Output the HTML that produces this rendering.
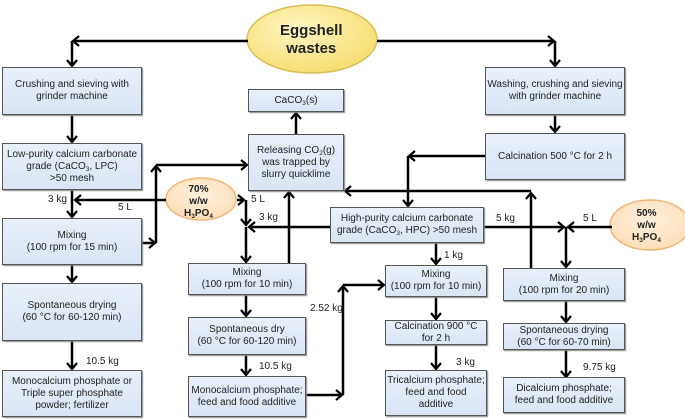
<!DOCTYPE html>
<html><head><meta charset="utf-8"><style>
body{margin:0;width:685px;height:419px;background:#fff;position:relative;overflow:hidden;font-family:"Liberation Sans",sans-serif;}
.b{position:absolute;box-sizing:border-box;border:1px solid #555;background:linear-gradient(#e8f0fb,#d9e5f6);box-shadow:1px 1px 1px #888;display:flex;align-items:center;justify-content:center;text-align:center;font-size:10px;line-height:12px;color:#222;}
.b span{display:block;}
.t{position:absolute;font-size:10px;color:#222;white-space:nowrap;}
svg{position:absolute;left:0;top:0;}
sub{font-size:6.5px;line-height:0;vertical-align:-2px;}
</style></head><body>
<svg width="685" height="419">
<defs>
<marker id="a" markerUnits="userSpaceOnUse" markerWidth="14" markerHeight="14" refX="7" refY="6" orient="auto"><path d="M1,1 L7,6 L1,11" fill="none" stroke="#000" stroke-width="2.2"/></marker>
<radialGradient id="g1" cx="0.4" cy="0.35" r="0.7"><stop offset="0" stop-color="#fff6c2"/><stop offset="1" stop-color="#f6dc6e"/></radialGradient>
<radialGradient id="g2" cx="0.5" cy="0.4" r="0.7"><stop offset="0" stop-color="#fff0dc"/><stop offset="1" stop-color="#fcdcb4"/></radialGradient>
</defs>
<ellipse cx="312" cy="39" rx="65" ry="34" fill="url(#g1)" stroke="#d9bf5a" stroke-width="1.5"/>
<ellipse cx="201" cy="199" rx="35" ry="21" fill="url(#g2)" stroke="#f2b57a" stroke-width="1.5"/>
<ellipse cx="650" cy="225" rx="40" ry="25" fill="url(#g2)" stroke="#f2b57a" stroke-width="1.5"/>
<g stroke="#000" stroke-width="2.5" fill="none" marker-end="url(#a)">
<path d="M248,41H73"/><path d="M72,41V66"/>
<path d="M377,41H554"/><path d="M555,41V66"/>
<path d="M72,115V142"/>
<path d="M72,190V217"/><path d="M166,200H75"/>
<path d="M142,243H155"/><path d="M156,243V166"/><path d="M156,165H247"/>
<path d="M237,200H244"/><path d="M246,200V225"/><path d="M330,227H249"/><path d="M246,227V262"/>
<path d="M289,263V192"/>
<path d="M296,134V113"/>
<path d="M555,115V132"/>
<path d="M485,156H409"/><path d="M408,156V206"/>
<path d="M531,268V193"/><path d="M531,191H345"/>
<path d="M484,227H564"/><path d="M612,227H568"/><path d="M566,227V267"/>
<path d="M566,301V322"/><path d="M566,350V377"/>
<path d="M436,243V264"/><path d="M436,297V319"/><path d="M436,345V369"/>
<path d="M306,395H342"/><path d="M343,395V286"/><path d="M343,285H384"/>
<path d="M246,295V316"/><path d="M246,355V375"/>
<path d="M72,265V282"/><path d="M72,341V369"/>
</g>
</svg>
<div class="t" style="left:280px;top:22px;font-size:15px;font-weight:bold;line-height:18px;text-align:center;">Eggshell<br>wastes</div>
<div class="t" style="left:184px;top:184px;font-size:10px;font-weight:bold;line-height:12px;text-align:center;">70%<br>w/w<br>H<sub>3</sub>PO<sub>4</sub></div>
<div class="t" style="left:632px;top:208px;font-size:10px;font-weight:bold;line-height:12px;text-align:center;">50%<br>w/w<br>H<sub>3</sub>PO<sub>4</sub></div>

<div class="b" style="left:2px;top:67px;width:140px;height:48px;"><span>Crushing and sieving with<br>grinder machine</span></div>
<div class="b" style="left:2px;top:143px;width:140px;height:47px;"><span>Low-purity calcium carbonate<br>grade (CaCO<sub>3</sub>, LPC)<br>&gt;50 mesh</span></div>
<div class="b" style="left:2px;top:218px;width:140px;height:47px;"><span>Mixing<br>(100 rpm for 15 min)</span></div>
<div class="b" style="left:2px;top:283px;width:140px;height:58px;"><span>Spontaneous drying<br>(60 °C for 60-120 min)</span></div>
<div class="b" style="left:2px;top:370px;width:140px;height:47px;"><span>Monocalcium phosphate or<br>Triple super phosphate<br>powder; fertilizer</span></div>

<div class="b" style="left:248px;top:89px;width:96px;height:23px;"><span>CaCO<sub>3</sub>(s)</span></div>
<div class="b" style="left:248px;top:134px;width:96px;height:57px;"><span>Releasing CO<sub>2</sub>(g)<br>was trapped by<br>slurry quicklime</span></div>

<div class="b" style="left:188px;top:263px;width:118px;height:32px;"><span>Mixing<br>(100 rpm for 10 min)</span></div>
<div class="b" style="left:188px;top:317px;width:118px;height:38px;"><span>Spontaneous dry<br>(60 °C for 60-120 min)</span></div>
<div class="b" style="left:188px;top:376px;width:118px;height:41px;"><span>Monocalcium phosphate;<br>feed and food additive</span></div>

<div class="b" style="left:330px;top:207px;width:154px;height:36px;"><span>High-purity calcium carbonate<br>grade (CaCO<sub>3</sub>, HPC) &gt;50 mesh</span></div>
<div class="b" style="left:385px;top:265px;width:102px;height:32px;"><span>Mixing<br>(100 rpm for 10 min)</span></div>
<div class="b" style="left:385px;top:320px;width:102px;height:25px;"><span>Calcination 900 °C<br>for 2 h</span></div>
<div class="b" style="left:385px;top:370px;width:102px;height:46px;"><span>Tricalcium phosphate;<br>feed and food<br>additive</span></div>

<div class="b" style="left:485px;top:67px;width:140px;height:48px;"><span>Washing, crushing and sieving<br>with grinder machine</span></div>
<div class="b" style="left:485px;top:133px;width:140px;height:47px;"><span>Calcination 500 °C for 2 h</span></div>
<div class="b" style="left:503px;top:268px;width:122px;height:33px;"><span>Mixing<br>(100 rpm for 20 min)</span></div>
<div class="b" style="left:503px;top:323px;width:122px;height:27px;"><span>Spontaneous drying<br>(60 °C for 60-70 min)</span></div>
<div class="b" style="left:503px;top:377px;width:122px;height:36px;"><span>Dicalcium phosphate;<br>feed and food additive</span></div>

<div class="t" style="left:48px;top:194px;">3 kg</div>
<div class="t" style="left:118px;top:202px;">5 L</div>
<div class="t" style="left:251px;top:194px;">5 L</div>
<div class="t" style="left:259px;top:212px;">3 kg</div>
<div class="t" style="left:86px;top:356px;">10.5 kg</div>
<div class="t" style="left:259px;top:361px;">10.5 kg</div>
<div class="t" style="left:310px;top:303px;">2.52 kg</div>
<div class="t" style="left:444px;top:250px;">1 kg</div>
<div class="t" style="left:456px;top:357px;">3 kg</div>
<div class="t" style="left:496px;top:213px;">5 kg</div>
<div class="t" style="left:583px;top:213px;">5 L</div>
<div class="t" style="left:583px;top:362px;">9.75 kg</div>
</body></html>
